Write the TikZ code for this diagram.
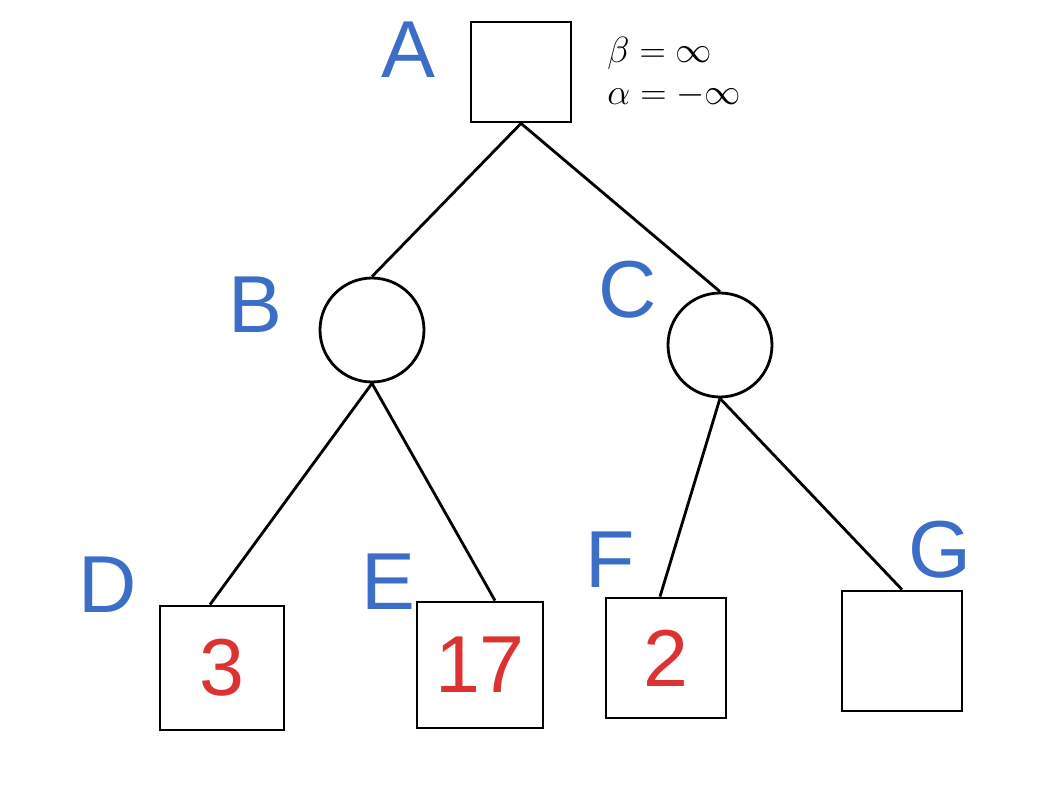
\documentclass[tikz,border=0pt]{standalone}
\usepackage{fontspec}
\setmainfont{Liberation Sans}
\definecolor{lblue}{RGB}{60,110,200}
\definecolor{lred}{RGB}{220,50,50}
\begin{document}
\begin{tikzpicture}[x=0.02cm,y=-0.02cm,line width=1.6pt,
  sq/.style={draw,rectangle,minimum width=#1*0.02cm,minimum height=#1*0.02cm,inner sep=0pt},
  ci/.style={draw,circle,minimum size=104*0.02cm,inner sep=0pt},
  lab/.style={text=lblue,font=\fontsize{46}{50}\selectfont},
  num/.style={text=lred,font=\fontsize{46}{50}\selectfont},
  edge/.style={line width=1.6pt}]
\useasboundingbox (0,0) rectangle (1056,788);
\node[sq=100] (A) at (521,72) {};
\node[ci] (B) at (372,330) {};
\node[ci] (C) at (720,345) {};
\node[sq=124,num] (D) at (222,668) {3};
\node[sq=126,num] (E) at (480,665) {17};
\node[sq=120,num] (F) at (666,658) {2};
\node[sq=120] (G) at (902,651) {};
\node[lab] (lA) at (408,50) {A};
\node[lab] (lB) at (255,305) {B};
\node[lab] (lC) at (628,290) {C};
\node[lab] (lD) at (108,585) {D};
\node[lab] (lE) at (388,582) {E};
\node[lab] (lF) at (610,560) {F};
\node[lab] (lG) at (940,550) {G};
\node[anchor=west,align=left,font=\fontsize{20}{24}\selectfont] (t) at (600,72) {$\beta=\infty$\\$\alpha=-\infty$};
\draw[edge] (A.south) -- (B.north);
\draw[edge] (A.south) -- (C.north);
\draw[edge] (B.south) -- (D.north -| 210,0);
\draw[edge] (B.south) -- (E.north -| 495,0);
\draw[edge] (C.south) -- (F.north -| 660,0);
\draw[edge] (C.south) -- (G.north);
\end{tikzpicture}
\end{document}
